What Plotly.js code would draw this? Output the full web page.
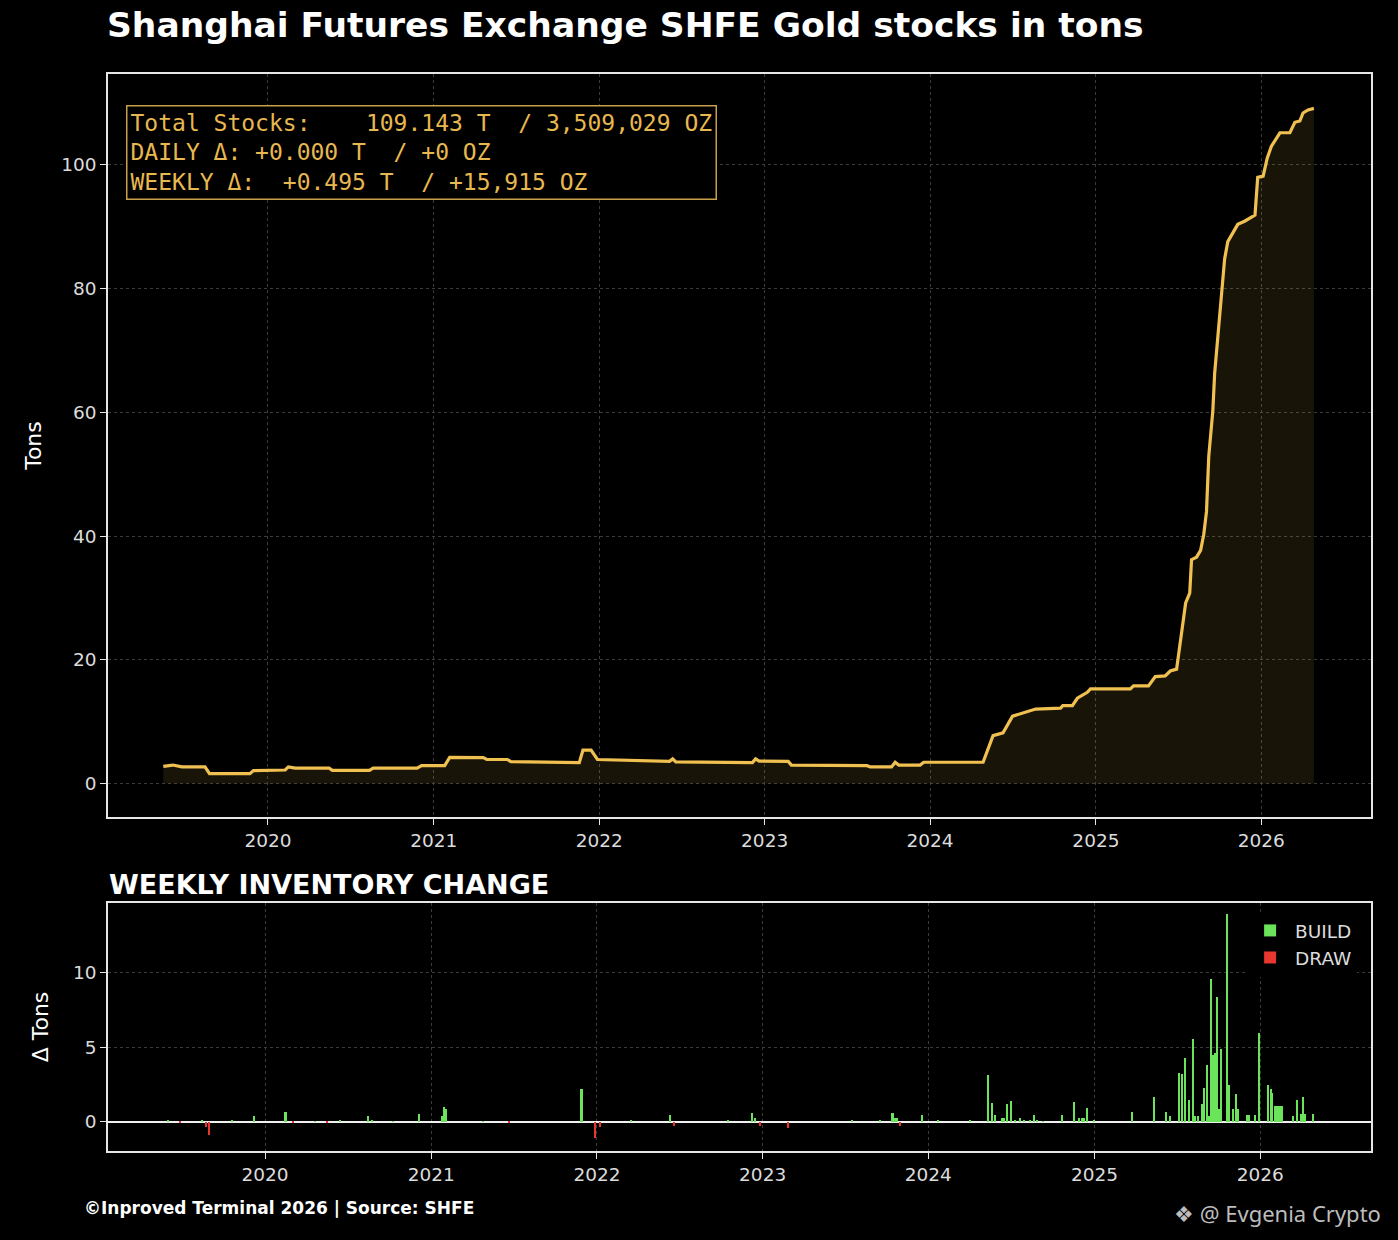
<!DOCTYPE html>
<html>
<head>
<meta charset="utf-8">
<script src="https://cdn.plot.ly/plotly-3.0.1.min.js"></script>
<style>
  html, body { margin: 0; padding: 0; background: #000; }
  #chart { width: 1398px; height: 1240px; }
</style>
</head>
<body>
<div id="chart"></div>
<script>
// =====================
// DATA
// =====================
const stockDates = [
  "2019-05-15", "2019-06-05", "2019-06-25", "2019-08-15", "2019-08-25", "2019-11-22", "2019-11-30",
  "2020-02-08", "2020-02-15", "2020-03-01", "2020-05-15", "2020-05-22", "2020-08-12", "2020-08-20",
  "2020-11-25", "2020-12-05", "2021-01-25", "2021-02-05", "2021-04-20", "2021-04-28", "2021-06-12",
  "2021-06-20", "2021-11-18", "2021-11-26", "2021-12-14", "2021-12-28", "2022-06-05", "2022-06-12",
  "2022-06-19", "2022-12-05", "2022-12-12", "2022-12-20", "2023-02-22", "2023-03-01", "2023-08-15",
  "2023-08-22", "2023-10-08", "2023-10-16", "2023-10-24", "2023-12-10", "2023-12-18", "2024-04-27",
  "2024-05-19", "2024-06-10", "2024-07-01", "2024-07-30", "2024-08-21", "2024-10-15", "2024-10-20",
  "2024-11-10", "2024-11-21", "2024-12-13", "2024-12-20", "2025-03-18", "2025-03-25", "2025-04-27",
  "2025-05-12", "2025-06-03", "2025-06-14", "2025-06-28", "2025-07-18", "2025-07-27", "2025-07-31",
  "2025-08-11", "2025-08-20", "2025-08-27", "2025-09-02", "2025-09-07", "2025-09-16", "2025-09-20",
  "2025-09-27", "2025-10-05", "2025-10-12", "2025-10-19", "2025-11-10", "2025-11-25", "2025-12-13",
  "2025-12-18", "2025-12-24", "2026-01-05", "2026-01-14", "2026-01-23", "2026-02-11", "2026-03-05",
  "2026-03-16", "2026-03-27", "2026-04-03", "2026-04-14", "2026-04-27"
];
const stockTons = [
  2.8, 3.0, 2.7, 2.7, 1.6, 1.6, 2.1,
  2.2, 2.7, 2.5, 2.5, 2.15, 2.15, 2.5,
  2.5, 2.9, 2.9, 4.25, 4.2, 3.9, 3.9,
  3.55, 3.4, 5.4, 5.4, 3.9, 3.6, 4.0,
  3.5, 3.4, 4.0, 3.65, 3.6, 3.0, 2.9,
  2.7, 2.7, 3.45, 3.0, 3.0, 3.45, 3.45,
  7.75, 8.2, 10.9, 11.5, 12.05, 12.2, 12.6,
  12.6, 13.8, 14.75, 15.3, 15.3, 15.8, 15.8,
  17.3, 17.4, 18.2, 18.5, 29.2, 30.8, 36.2,
  36.6, 37.7, 40.3, 44.0, 52.9, 60.3, 66.3,
  72.2, 80.4, 84.8, 87.6, 90.4, 90.9, 91.6,
  91.9, 98.0, 98.2, 101.1, 103.0, 105.2, 105.2,
  106.9, 107.1, 108.4, 108.9, 109.143
];

const buildDates = [
  "2019-06-01", "2019-08-16", "2019-10-21", "2019-12-07", "2020-02-15", "2020-04-20", "2020-06-14",
  "2020-08-15", "2020-08-23", "2020-10-09", "2020-12-06", "2021-01-25", "2021-01-30", "2021-02-03",
  "2021-04-26", "2021-11-28", "2022-03-18", "2022-06-11", "2022-10-16", "2022-12-09", "2022-12-16",
  "2023-07-16", "2023-09-16", "2023-10-14", "2023-10-19", "2023-10-23", "2023-12-17", "2024-01-22",
  "2024-04-01", "2024-05-12", "2024-05-20", "2024-05-27", "2024-06-11", "2024-06-16", "2024-06-22",
  "2024-07-01", "2024-07-10", "2024-07-20", "2024-07-29", "2024-08-12", "2024-08-20", "2024-08-27",
  "2024-09-10", "2024-10-21", "2024-11-16", "2024-11-27", "2024-12-04", "2024-12-09", "2024-12-16",
  "2024-12-30", "2025-03-24", "2025-05-12", "2025-06-08", "2025-06-17", "2025-07-07", "2025-07-13",
  "2025-07-20", "2025-07-28", "2025-08-05", "2025-08-10", "2025-08-16", "2025-08-25", "2025-08-30",
  "2025-09-05", "2025-09-10", "2025-09-14", "2025-09-20", "2025-09-23", "2025-09-28", "2025-10-02",
  "2025-10-06", "2025-10-19", "2025-10-25", "2025-11-02", "2025-11-09", "2025-11-14", "2025-12-02",
  "2025-12-08", "2025-12-20", "2025-12-29", "2026-01-19", "2026-01-24", "2026-01-27", "2026-02-03",
  "2026-02-08", "2026-02-14", "2026-02-18", "2026-03-15", "2026-03-24", "2026-04-01", "2026-04-06",
  "2026-04-10", "2026-04-28"
];
const buildTons = [
  0.1, 0.1, 0.1, 0.4, 0.65, 0.05, 0.1,
  0.4, 0.1, 0.05, 0.55, 0.4, 1.0, 0.9,
  0.05, 2.2, 0.1, 0.45, 0.1, 0.6, 0.3,
  0.1, 0.1, 0.6, 0.25, 0.25, 0.45, 0.1,
  0.1, 3.15, 1.25, 0.5, 0.25, 0.25, 1.2,
  1.4, 0.1, 0.3, 0.1, 0.1, 0.5, 0.1,
  0.05, 0.5, 1.35, 0.3, 0.3, 0.3, 0.95,
  0.1, 0.7, 1.65, 0.7, 0.4, 3.3, 3.2,
  4.3, 1.45, 5.55, 0.4, 0.4, 1.2, 2.25,
  3.8, 0.4, 9.6, 4.5, 4.6, 8.4, 0.9,
  4.9, 13.95, 2.5, 0.85, 1.9, 0.9, 0.45,
  0.45, 0.45, 6.0, 2.45, 2.2, 1.95, 1.05,
  1.05, 1.05, 1.05, 0.4, 1.5, 0.55, 1.65,
  0.55, 0.55
];

const drawDates = [
  "2019-06-27", "2019-08-24", "2019-08-30", "2020-03-02", "2020-05-16", "2021-06-22",
  "2021-12-28", "2022-01-08", "2022-06-19", "2022-12-26", "2023-02-26", "2023-10-30"
];
const drawTons = [
  -0.05, -0.35, -0.9, -0.05, -0.05, -0.05,
  -1.1, -0.35, -0.3, -0.3, -0.4, -0.3
];

const summaryLines = [
  "Total Stocks:    109.143 T  / 3,509,029 OZ",
  "DAILY Δ: +0.000 T  / +0 OZ",
  "WEEKLY Δ:  +0.495 T  / +15,915 OZ"
];

// =====================
// STYLE
// =====================
const GOLD = "#F0C050";
const GREEN = "#6BE35A";
const RED = "#E8372E";
const GRID = "#3c3c3c";
const TICKFONT = { family: "DejaVu Sans", size: 18.5, color: "#dcdcdc" };
const DAY_MS = 86400000;

// =====================
// TRACES
// =====================
const stockTrace = {
  type: "scatter",
  mode: "lines",
  x: stockDates,
  y: stockTons,
  line: { color: GOLD, width: 3.2 },
  fill: "tozeroy",
  fillcolor: "rgba(240,192,80,0.10)",
  xaxis: "x",
  yaxis: "y",
  showlegend: false,
  hoverinfo: "x+y"
};

const buildTrace = {
  type: "bar",
  name: "BUILD",
  x: buildDates,
  y: buildTons,
  width: 4.5 * DAY_MS,
  marker: { color: GREEN, line: { width: 0 } },
  xaxis: "x2",
  yaxis: "y2"
};

const drawTrace = {
  type: "bar",
  name: "DRAW",
  x: drawDates,
  y: drawTons,
  width: 4.5 * DAY_MS,
  marker: { color: RED, line: { width: 0 } },
  xaxis: "x2",
  yaxis: "y2"
};

// =====================
// LAYOUT
// =====================
function baseAxis(extra) {
  return Object.assign({
    showline: true,
    mirror: true,
    linecolor: "#e6e6e6",
    linewidth: 1.5,
    ticks: "outside",
    ticklen: 6,
    tickcolor: "#e6e6e6",
    tickfont: TICKFONT,
    showgrid: true,
    gridcolor: GRID,
    gridwidth: 1,
    griddash: "3px,3px",
    zeroline: false
  }, extra);
}

const layout = {
  width: 1398,
  height: 1240,
  paper_bgcolor: "#000000",
  plot_bgcolor: "#000000",
  font: { family: "DejaVu Sans", color: "#ffffff" },
  margin: { l: 108, r: 27, t: 74, b: 89 },
  bargap: 0,
  barmode: "overlay",

  xaxis: baseAxis({
    type: "date",
    domain: [0, 1],
    anchor: "y",
    range: ["2019-01-13", "2026-08-31"],
    tick0: "2020-01-01",
    dtick: "M12",
    tickformat: "%Y"
  }),
  yaxis: baseAxis({
    domain: [0.3101, 1],
    anchor: "x",
    range: [-5.4, 114.7],
    tickvals: [0, 20, 40, 60, 80, 100],
    title: { text: "Tons", font: { size: 22, color: "#ffffff" }, standoff: 14 }
  }),
  xaxis2: baseAxis({
    type: "date",
    domain: [0, 1],
    anchor: "y2",
    range: ["2019-01-20", "2026-09-02"],
    tick0: "2020-01-01",
    dtick: "M12",
    tickformat: "%Y"
  }),
  yaxis2: baseAxis({
    domain: [0, 0.2303],
    anchor: "x2",
    range: [-1.95, 14.7],
    tickvals: [0, 5, 10],
    zeroline: true,
    zerolinecolor: "#f0f0f0",
    zerolinewidth: 1.5,
    title: { text: "Δ Tons", font: { size: 22, color: "#ffffff" }, standoff: 18 }
  }),

  legend: {
    x: 0.989,
    xanchor: "right",
    y: 0.222,
    yanchor: "top",
    bgcolor: "#000000",
    borderwidth: 0,
    font: { family: "DejaVu Sans", size: 18.5, color: "#dcdcdc" },
    itemwidth: 40,
    tracegroupgap: 6
  },

  annotations: [
    {
      text: "<b>Shanghai Futures Exchange SHFE Gold stocks in tons</b>",
      xref: "paper", yref: "paper",
      x: -0.002, y: 1.0455,
      xanchor: "left", yanchor: "middle",
      showarrow: false,
      font: { family: "DejaVu Sans", size: 34.5, color: "#ffffff" }
    },
    {
      text: "<b>WEEKLY INVENTORY CHANGE</b>",
      xref: "paper", yref: "paper",
      x: -0.001, y: 0.2479,
      xanchor: "left", yanchor: "middle",
      showarrow: false,
      font: { family: "DejaVu Sans", size: 27, color: "#ffffff" }
    },
    {
      text: summaryLines.map(s => s.replace(/ /g, "\u00a0")).join("<br>"),
      xref: "paper", yref: "paper",
      x: 0.0142, y: 0.9712,
      xanchor: "left", yanchor: "top",
      align: "left",
      showarrow: false,
      bgcolor: "#000000",
      bordercolor: "#C9A04A",
      borderwidth: 1.5,
      borderpad: 3,
      font: { family: "DejaVu Sans Mono", size: 23, color: "#E8B850" }
    },
    {
      text: "<b>©Inproved Terminal 2026 | Source: SHFE</b>",
      xref: "paper", yref: "paper",
      x: -0.0206, y: -0.0529,
      xanchor: "left", yanchor: "middle",
      showarrow: false,
      font: { family: "DejaVu Sans", size: 17, color: "#ffffff" }
    },
    {
      text: "❖ @ Evgenia Crypto",
      xref: "paper", yref: "paper",
      x: 1.0095, y: -0.058,
      xanchor: "right", yanchor: "middle",
      showarrow: false,
      font: { family: "Noto Sans", size: 22, color: "#bdbdbd" }
    }
  ]
};

Plotly.newPlot("chart", [stockTrace, buildTrace, drawTrace], layout, { displayModeBar: false, responsive: false });
</script>
</body>
</html>
